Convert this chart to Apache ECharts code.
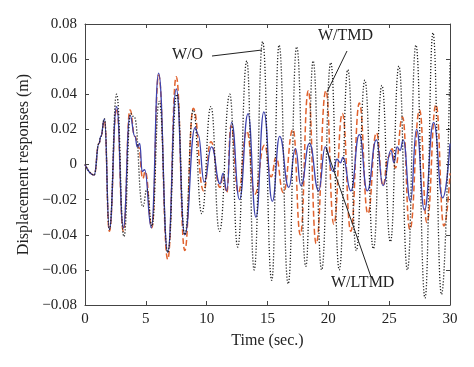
<!DOCTYPE html>
<html>
<head>
<meta charset="utf-8">
<script src="https://cdn.jsdelivr.net/npm/echarts@6/dist/echarts.min.js"></script>
<style>html,body{margin:0;padding:0;background:#fff}#c{width:474px;height:367px}</style>
</head>
<body>
<div id="c"></div>
<script>
// Time (sec.) and displacement (m) at extrema
const tWO = [0,0.75,1.15,1.3,1.6,2.0,2.6,3.2,3.75,4.05,4.75,5.1,5.5,6.1,6.8,7.55,8.2,8.9,9.6,10.35,11.05,11.9,12.55,13.3,13.9,14.6,15.35,15.95,16.7,17.4,18.15,18.75,19.45,20.2,20.9,21.6,22.3,23.0,23.7,24.4,25.1,25.8,26.5,27.2,27.95,28.6,29.3,30];
const vWO = [0,-0.006,0.012,0.016,0.026,-0.037,0.040,-0.041,0.029,0.027,-0.024,-0.014,-0.035,0.036,-0.050,0.040,-0.040,0.031,-0.028,0.033,-0.038,0.040,-0.047,0.059,-0.060,0.070,-0.066,0.068,-0.068,0.067,-0.058,0.059,-0.060,0.058,-0.060,0.054,-0.049,0.048,-0.048,0.045,-0.044,0.056,-0.060,0.068,-0.076,0.075,-0.074,0.058];

const tTMD = [0,0.75,1.15,1.3,1.6,2.0,2.6,3.15,3.7,4.1,4.4,4.75,4.95,5.5,6.05,6.8,7.5,8.2,8.9,9.75,10.35,11.1,11.35,11.65,12.0,12.6,13.3,13.95,14.75,15.3,15.7,16.3,17.1,17.7,18.35,19.0,19.8,20.45,21.15,21.85,22.55,23.25,23.95,24.5,24.9,25.25,25.5,26.1,26.7,27.5,28.1,28.85,29.5,30];
const vTMD = [0,-0.006,0.012,0.016,0.025,-0.038,0.032,-0.038,0.031,0.016,0.010,-0.008,-0.004,-0.036,0.051,-0.054,0.050,-0.049,0.032,-0.015,0.013,-0.013,-0.006,-0.016,0.022,-0.016,0.019,-0.017,0.011,-0.007,0.004,-0.016,0.020,-0.040,0.042,-0.045,0.042,-0.034,0.029,-0.038,0.035,-0.028,0.018,-0.012,0.004,0.009,-0.002,0.027,-0.037,0.031,-0.033,0.034,-0.035,-0.005];

const tLTMD = [0,0.75,1.15,1.3,1.6,2.0,2.6,3.15,3.7,4.1,4.3,4.5,4.7,4.9,5.45,6.05,6.8,7.5,8.2,9.05,9.3,9.8,10.4,11.1,11.35,11.65,12.05,12.7,13.4,14.05,14.7,15.4,16.0,16.75,17.3,17.75,18.45,19.2,19.75,20.4,20.7,21.0,21.2,21.85,22.55,23.2,23.95,24.5,25.15,25.4,25.65,25.9,26.15,26.75,27.25,27.9,28.65,29.4,30];
const vLTMD = [0,-0.006,0.012,0.016,0.026,-0.037,0.033,-0.036,0.028,0.016,0.010,0.012,-0.004,-0.003,-0.036,0.052,-0.050,0.043,-0.040,0.021,0.017,-0.010,0.010,-0.011,-0.005,-0.015,0.024,-0.020,0.029,-0.030,0.030,-0.021,0.016,-0.013,0.009,-0.012,0.012,-0.015,0.010,-0.004,0.003,0.001,0.004,-0.015,0.017,-0.015,0.014,-0.012,0.008,0.001,0.010,0.008,0.014,-0.021,0.020,-0.026,0.024,-0.019,0.012];

const xTicks = [0,5,10,15,20,25,30];
const yTicks = [-0.08,-0.06,-0.04,-0.02,0,0.02,0.04,0.06,0.08];

const zip = (t, v) => t.map((x, i) => [x, v[i]]);
const FONT = 'Liberation Serif';
const chart = echarts.init(document.getElementById('c'), null, {renderer: 'canvas'});

const fmtY = v => {
  if (Math.abs(v) < 1e-9) return '0';
  return (v < 0 ? '\u2212' : '') + Math.abs(v).toFixed(2);
};
const axisLine = {show: true, onZero: false, lineStyle: {color: '#444', width: 1}};
const tick = {show: true, inside: true, length: 4, lineStyle: {color: '#444'}};

chart.setOption({
  animation: false,
  backgroundColor: '#fff',
  grid: {left: 85, right: 24, top: 24, bottom: 62},
  xAxis: [{
    type: 'value', min: xTicks[0], max: xTicks[xTicks.length - 1], interval: 5,
    axisLine, axisTick: tick, splitLine: {show: false},
    axisLabel: {color: '#222', fontFamily: FONT, fontSize: 15, margin: 7},
    name: 'Time (sec.)', nameLocation: 'middle', nameGap: 28,
    nameTextStyle: {color: '#222', fontFamily: FONT, fontSize: 16}
  }, {
    type: 'value', position: 'top', min: 0, max: 30, interval: 5,
    axisLine, axisTick: tick, axisLabel: {show: false}, splitLine: {show: false}
  }],
  yAxis: [{
    type: 'value', min: yTicks[0], max: yTicks[yTicks.length - 1], interval: 0.02,
    axisLine, axisTick: tick, splitLine: {show: false},
    axisLabel: {color: '#222', fontFamily: FONT, fontSize: 15, margin: 8, formatter: fmtY},
    name: 'Displacement responses (m)', nameLocation: 'middle', nameGap: 52,
    nameTextStyle: {color: '#222', fontFamily: FONT, fontSize: 16}
  }, {
    type: 'value', position: 'right', min: -0.08, max: 0.08, interval: 0.02,
    axisLine, axisTick: tick, axisLabel: {show: false}, splitLine: {show: false}
  }],
  series: [
    {name: 'W/TMD', type: 'line', data: zip(tTMD, vTMD), showSymbol: false,
     smooth: 0.5, smoothMonotone: 'x', z: 2,
     lineStyle: {color: '#e0622e', width: 1.5, type: [6, 3]}},
    {name: 'W/LTMD', type: 'line', data: zip(tLTMD, vLTMD), showSymbol: false,
     smooth: 0.5, smoothMonotone: 'x', z: 3,
     lineStyle: {color: '#3d42ad', width: 1.3, type: 'solid'}},
    {name: 'W/O', type: 'line', data: zip(tWO, vWO), showSymbol: false,
     smooth: 0.5, smoothMonotone: 'x', z: 4,
     lineStyle: {color: '#222', width: 1.3, type: [1.2, 1.8]}}
  ],
  graphic: [
    {type: 'text', left: 172, top: 47, z: 10,
     style: {text: 'W/O', font: '16px "Liberation Serif"', fill: '#222'}},
    {type: 'polyline', z: 10, shape: {points: [[212, 56], [262, 50]]},
     style: {stroke: '#222', lineWidth: 1, fill: null}},
    {type: 'text', left: 318, top: 28, z: 10,
     style: {text: 'W/TMD', font: '16px "Liberation Serif"', fill: '#222'}},
    {type: 'polyline', z: 10, shape: {points: [[347, 51], [327, 92]]},
     style: {stroke: '#222', lineWidth: 1, fill: null}},
    {type: 'text', left: 331, top: 275, z: 10,
     style: {text: 'W/LTMD', font: '16px "Liberation Serif"', fill: '#222'}},
    {type: 'polyline', z: 10, shape: {points: [[371, 277], [326, 148]]},
     style: {stroke: '#222', lineWidth: 1, fill: null}}
  ]
});
</script>
</body>
</html>
